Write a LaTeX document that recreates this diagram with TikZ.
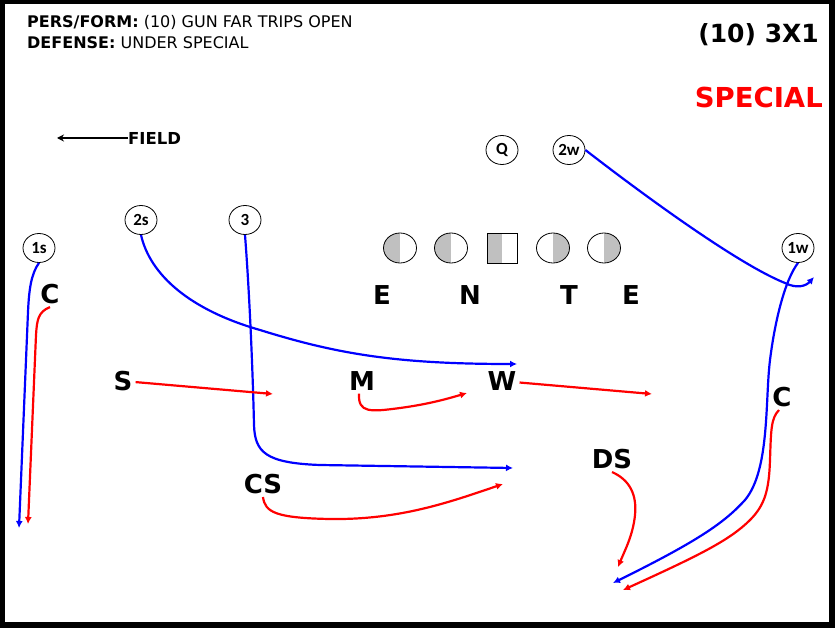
\documentclass[tikz,border=0pt]{standalone}
\usepackage{fontspec}
\setmainfont{DejaVu Sans}
\newfontfamily\playerfont{Carlito}
\usetikzlibrary{arrows.meta,shapes.geometric}

\begin{document}
\begin{tikzpicture}[%
      x=1pt, y=-1pt,
      player/.style={draw=black, line width=0.8pt, ellipse, minimum width=32pt,
        minimum height=29pt, inner sep=0pt,
        font=\playerfont\bfseries\fontsize{17}{17}\selectfont},
      lineman/.style={draw=black, line width=0.8pt, ellipse, minimum width=33pt,
        minimum height=30pt, inner sep=0pt},
      leftgray/.style={path picture={\fill[shadegray] (path picture bounding box.south west)
        rectangle (path picture bounding box.north);}},
      rightgray/.style={path picture={\fill[shadegray] (path picture bounding box.south east)
        rectangle (path picture bounding box.north);}},
      defender/.style={inner sep=3pt, font=\bfseries\fontsize{26}{26}\selectfont},
      bluerun/.style={draw=blue, line width=2.2pt, -{Latex[length=7pt,width=7pt]}},
      redrun/.style={draw=red, line width=2.2pt, -{Latex[length=7pt,width=7pt]}},
      ]
      \definecolor{shadegray}{RGB}{192,192,192}
      \useasboundingbox (0,0) rectangle (840,628);
      % frame
      \fill [black] (0,0) rectangle (835,628);
      \fill [white] (5,4) rectangle (829,622);

      % header
      \node (pers) [anchor=base west, inner sep=0pt, font=\fontsize{16}{16}\selectfont]
        at (27,27.5) {\textbf{PERS/FORM:} (10) GUN FAR TRIPS OPEN};
      \node (dfns) [anchor=base west, inner sep=0pt, font=\fontsize{16}{16}\selectfont]
        at (27,49) {\textbf{DEFENSE:} UNDER SPECIAL};
      \node (title) [anchor=base east, inner sep=0pt, font=\bfseries\fontsize{25}{25}\selectfont]
        at (819,43) {(10) 3X1};
      \node (call) [anchor=base east, inner sep=0pt, text=red, font=\bfseries\fontsize{27.5}{27.5}\selectfont]
        at (823,108) {SPECIAL};
      \node (field) [anchor=west, inner sep=0pt, font=\bfseries\fontsize{16.5}{16.5}\selectfont]
        at (128,138) {FIELD};
      \coordinate (fieldend) at (57,138);
      \draw [black, line width=1.5pt, -{Stealth[length=7pt,width=7pt]}] (field.west) -- (fieldend);

      % offense
      \node (q)  [player] at (502,150) {Q};
      \node (w2) [player] at (569,150) {2w};
      \node (w1) [player] at (798,248) {1w};
      \node (s1) [player] at (39,248) {1s};
      \node (s2) [player] at (141,220) {2s};
      \node (r3) [player] at (245,220) {3};

      \node (lt) [lineman, leftgray]  at (400,248) {};
      \node (lg) [lineman, leftgray]  at (451,248) {};
      \node (ce) [draw=black, line width=0.8pt, minimum size=30pt, inner sep=0pt, leftgray] at (502,248) {};
      \node (rg) [lineman, rightgray] at (553,248) {};
      \node (rt) [lineman, rightgray] at (604,248) {};

      % defense
      \node (e1) [defender] at (382,295) {E};
      \node (n)  [defender] at (470,295) {N};
      \node (t)  [defender] at (569,295) {T};
      \node (e2) [defender] at (631,295) {E};
      \node (cl) [defender] at (50,294) {C};
      \node (cr) [defender] at (782,397) {C};
      \node (ss) [defender] at (123,381) {S};
      \node (m)  [defender] at (362,381) {M};
      \node (w)  [defender] at (502,381) {W};
      \node (cs) [defender] at (263,484) {CS};
      \node (ds) [defender] at (612,459) {DS};

      % route ends
      \coordinate (s1end) at (19,528);
      \coordinate (s2end) at (517,364);
      \coordinate (r3end) at (513,468);
      \coordinate (w2end) at (814,277);
      \coordinate (w1end) at (613,583);
      \coordinate (clend) at (28,524);
      \coordinate (ssend) at (273,394);
      \coordinate (mend)  at (467,393);
      \coordinate (wend)  at (652,394);
      \coordinate (csend) at (503,484);
      \coordinate (dsend) at (618,567);
      \coordinate (crend) at (623,590);

      % offense routes
      \draw [bluerun] (s1.south) .. controls (31,274) and (29,290) .. (28,312) -- (s1end);
      \draw [bluerun] (s2.south) .. controls (150,275) and (190,310) .. (260,330)
        .. controls (340,355) and (400,364) .. (s2end);
      \draw [bluerun] (r3.south) .. controls (250,300) and (253,380) .. (254,425)
        .. controls (255,452) and (265,463) .. (320,465) -- (r3end);
      \draw [bluerun] (w2.east) .. controls (650,200) and (740,265) .. (785,283)
        .. controls (797,289) and (806,286) .. (w2end);
      \draw [bluerun] (w1.south) .. controls (785,280) and (775,320) .. (770,360)
        .. controls (765,400) and (770,470) .. (745,500)
        .. controls (725,522) and (700,540) .. (w1end);

      % defense drops
      \draw [redrun] (cl.south) .. controls (38,312) and (37,320) .. (36,335) -- (clend);
      \draw [redrun] (ss) -- (ssend);
      \draw [redrun] (w) -- (wend);
      \draw [redrun] ([xshift=-3pt]m.south) .. controls (358,413) and (370,412) .. (400,408)
        .. controls (430,404) and (450,398) .. (mend);
      \draw [redrun] (cs.south) .. controls (265,512) and (275,518) .. (330,519)
        .. controls (400,520) and (450,502) .. (csend);
      \draw [redrun] (ds.south) .. controls (630,480) and (637,495) .. (635,515)
        .. controls (633,535) and (625,550) .. (dsend);
      \draw [redrun] ([xshift=-3pt]cr.south) .. controls (771,418) and (771,430) .. (770,460)
        .. controls (769,490) and (765,505) .. (750,520)
        .. controls (730,540) and (700,555) .. (crend);
      \end{tikzpicture}
\end{document}
